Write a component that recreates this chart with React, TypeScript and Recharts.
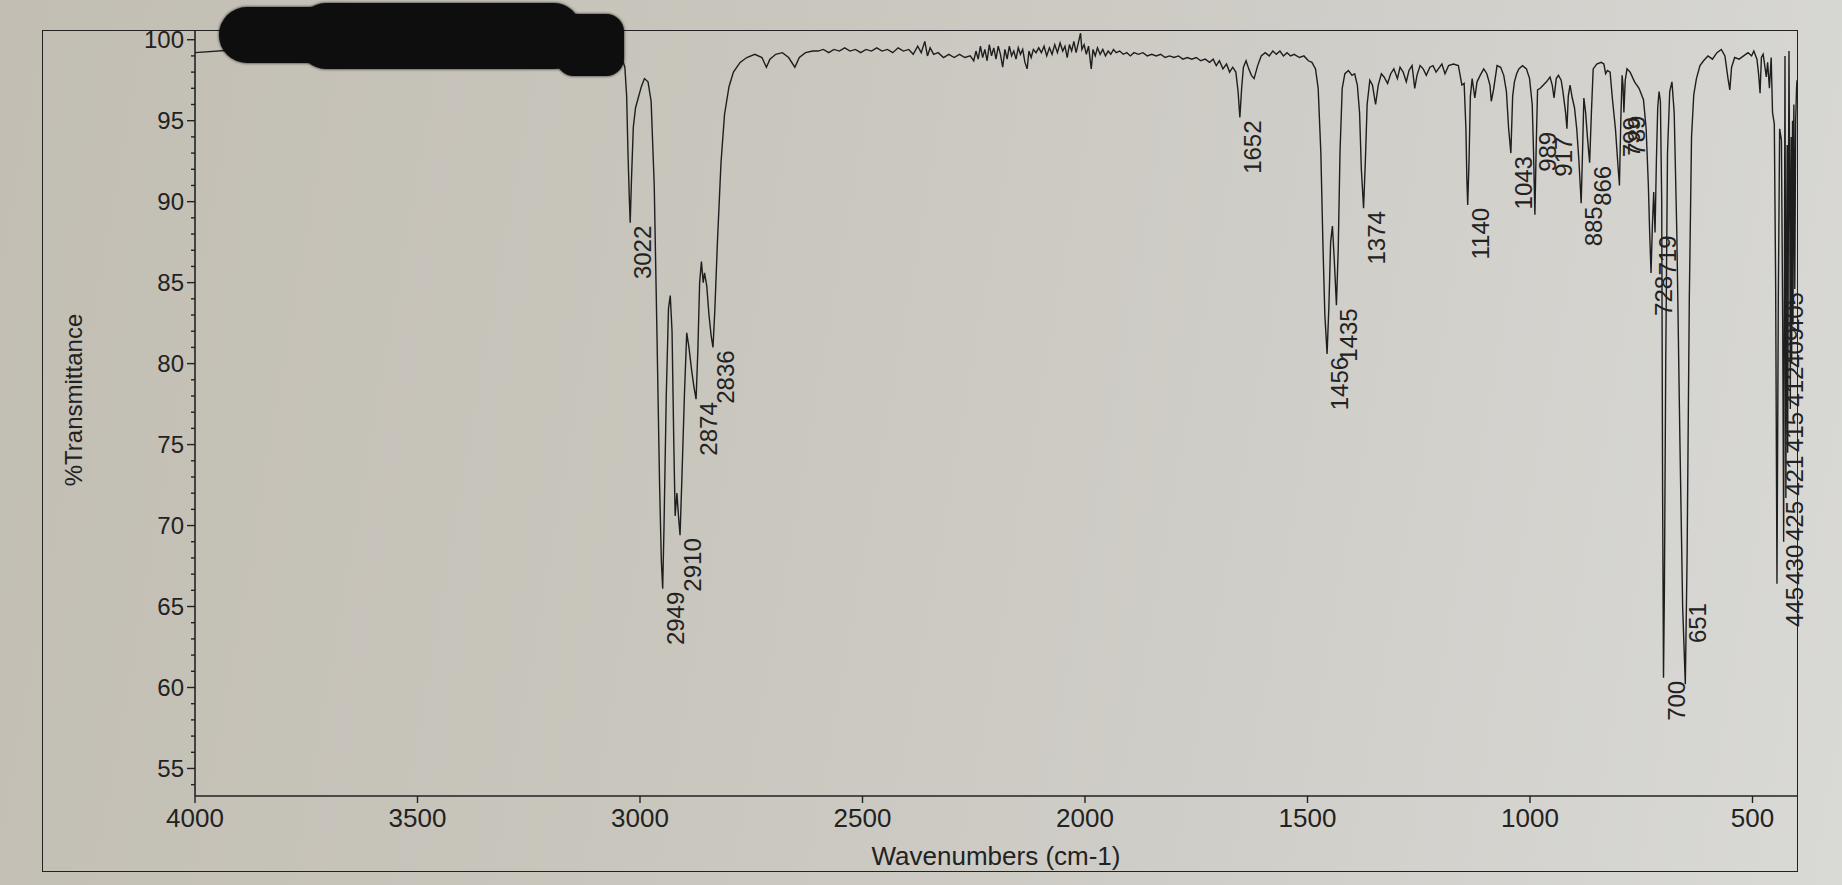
import { ComposedChart, Line, Scatter, XAxis, YAxis } from "recharts";

const FONT = '"Liberation Sans", Arial, Helvetica, sans-serif';
const INK = "#222";

// spectrum, [wavenumber cm-1, %T]
const chStretch: [number, number][] = [
  [4000, 99.2], [3900, 99.4], [3800, 99.3], [3700, 99.5], [3600, 99.4], [3500, 99.5],
  [3400, 99.4], [3300, 99.5], [3200, 99.4], [3120, 99.3], [3080, 99.1], [3060, 98.9],
  [3048, 98.6], [3040, 98.8], [3034, 98.3], [3030, 96.5], [3027, 93.0], [3024, 90.2],
  [3022, 88.7], [3019, 91.5], [3015, 94.6], [3010, 95.8], [3004, 96.4], [2997, 97.1],
  [2990, 97.6], [2982, 97.4], [2975, 96.2], [2968, 91.0], [2962, 82.0], [2956, 72.5],
  [2952, 67.8], [2949, 66.1], [2946, 70.0], [2941, 78.0], [2936, 83.4], [2932, 84.2],
  [2928, 82.0], [2924, 75.0], [2921, 70.6], [2917, 72.0], [2913, 70.4], [2910, 69.4],
  [2906, 72.8], [2900, 78.2], [2895, 81.9], [2890, 81.0], [2884, 79.6], [2879, 78.6],
  [2874, 77.8], [2870, 80.8], [2866, 85.0], [2862, 86.3], [2858, 85.0], [2855, 85.6],
  [2850, 84.8], [2845, 83.0], [2840, 81.7], [2836, 81.0], [2832, 83.2], [2826, 87.5],
  [2818, 92.4], [2810, 95.4], [2800, 97.1], [2790, 98.0], [2775, 98.6], [2760, 98.9],
  [2742, 99.1], [2726, 98.9], [2716, 98.3], [2708, 98.8], [2695, 99.1], [2680, 99.2],
  [2666, 98.9], [2652, 98.3], [2642, 98.9], [2628, 99.2], [2612, 99.3],
];

const baseline: [number, number][] = [
  [2600, 99.3], [2588, 99.4], [2576, 99.2], [2564, 99.4], [2552, 99.3], [2540, 99.5],
  [2528, 99.3], [2516, 99.4], [2504, 99.2], [2492, 99.4], [2480, 99.3], [2468, 99.5],
  [2456, 99.3], [2444, 99.4], [2432, 99.2], [2420, 99.5], [2408, 99.3], [2396, 99.4],
  [2386, 99.1], [2376, 99.6], [2368, 99.2], [2360, 99.9], [2354, 99.0], [2348, 99.5],
  [2340, 99.1], [2330, 99.2], [2318, 98.9], [2306, 99.1], [2294, 98.9], [2282, 99.1],
  [2270, 98.9], [2258, 99.0], [2250, 98.7], [2245, 99.3], [2240, 98.8], [2235, 99.6],
  [2230, 98.9], [2225, 99.4], [2220, 98.7], [2215, 99.7], [2210, 99.0], [2205, 99.5],
  [2200, 98.8], [2195, 99.6], [2190, 99.1], [2185, 98.3], [2180, 99.4], [2175, 98.8],
  [2170, 99.6], [2165, 99.0], [2160, 99.3], [2155, 98.8], [2150, 99.5], [2145, 99.1],
  [2140, 99.4], [2135, 98.6], [2130, 98.2], [2126, 99.3], [2121, 98.9], [2116, 99.4],
  [2110, 99.2], [2104, 99.5], [2098, 99.2], [2092, 99.6], [2086, 99.0], [2080, 99.5],
  [2074, 99.1], [2068, 99.7], [2062, 99.2], [2056, 99.8], [2050, 99.3], [2045, 99.6],
  [2040, 98.9], [2035, 99.7], [2030, 99.3], [2025, 99.9], [2020, 99.2], [2015, 99.8],
  [2010, 100.4], [2007, 99.4], [2002, 99.7], [1997, 99.1], [1992, 99.6], [1986, 98.2],
  [1982, 99.4], [1977, 99.0], [1972, 99.5], [1966, 99.1], [1960, 99.4], [1954, 99.0],
  [1948, 99.3], [1942, 99.1], [1936, 99.4], [1930, 99.2], [1922, 99.3], [1914, 99.1],
  [1906, 99.2], [1898, 99.0], [1890, 99.2], [1880, 99.1], [1870, 99.2], [1860, 99.0],
  [1850, 99.1], [1840, 99.0], [1830, 99.1], [1820, 98.9], [1810, 99.0], [1800, 98.9],
  [1790, 99.0], [1780, 98.8], [1770, 98.9], [1760, 98.8], [1750, 98.9], [1740, 98.7],
  [1730, 98.8], [1720, 98.6],
];

const midRange: [number, number][] = [
  [1712, 98.8], [1705, 98.4], [1698, 98.7], [1690, 98.2], [1682, 98.5], [1675, 98.0],
  [1668, 98.3], [1661, 98.0], [1656, 96.8], [1652, 95.2], [1648, 97.0], [1644, 98.3],
  [1638, 98.7], [1632, 98.2], [1626, 97.8], [1620, 97.6], [1612, 98.4], [1604, 99.0],
  [1595, 99.2], [1586, 99.0], [1578, 99.3], [1570, 99.1], [1562, 99.3], [1554, 99.0],
  [1546, 99.2], [1538, 99.0], [1530, 99.1], [1518, 98.9], [1508, 99.0], [1498, 98.7],
  [1490, 98.6], [1482, 98.2], [1476, 97.0], [1470, 93.0], [1465, 87.0], [1461, 83.0],
  [1456, 80.6], [1452, 83.5], [1448, 87.5], [1444, 88.5], [1440, 86.5], [1435, 83.6],
  [1431, 87.0], [1427, 93.0], [1422, 97.0], [1416, 97.9], [1408, 98.1], [1400, 97.8],
  [1394, 97.9], [1388, 97.2], [1383, 95.5], [1379, 92.0], [1374, 89.6], [1370, 92.5],
  [1366, 96.0], [1360, 97.5], [1354, 97.2], [1347, 96.0], [1341, 97.2], [1334, 97.9],
  [1328, 97.7], [1320, 97.3], [1313, 97.9], [1306, 98.2], [1298, 97.6], [1292, 98.3],
  [1285, 98.0], [1278, 97.4], [1272, 98.1], [1265, 98.4], [1259, 97.0], [1254, 97.8],
  [1247, 98.4], [1240, 98.2], [1233, 97.8], [1225, 98.3], [1218, 98.4], [1211, 98.0],
  [1206, 98.2], [1198, 98.5], [1191, 97.9], [1183, 98.4], [1172, 98.5], [1161, 98.4],
];

const fingerprint: [number, number][] = [
  [1153, 97.2], [1148, 97.3], [1144, 94.5], [1142, 91.5], [1140, 89.8], [1137, 92.5],
  [1134, 96.5], [1130, 97.6], [1124, 96.4], [1119, 97.4], [1112, 97.8], [1104, 98.2],
  [1097, 97.9], [1090, 97.2], [1087, 96.2], [1082, 96.9], [1074, 98.4], [1066, 98.3],
  [1059, 97.8], [1053, 96.8], [1048, 94.5], [1043, 93.0], [1039, 96.5], [1035, 97.4],
  [1030, 97.9], [1025, 98.2], [1017, 98.4], [1008, 98.2], [1001, 97.6], [995, 96.0],
  [992, 93.0], [989, 89.2], [986, 93.5], [983, 96.9], [977, 97.0], [970, 97.2],
  [963, 97.4], [955, 97.7], [950, 97.2], [946, 96.4], [941, 97.6], [936, 97.8],
  [930, 97.5], [926, 96.8], [920, 95.5], [917, 94.5], [914, 96.5], [910, 97.2],
  [905, 96.4], [900, 95.8], [895, 94.5], [890, 92.5], [885, 89.9], [882, 93.0],
  [879, 96.4], [875, 95.5], [871, 94.0], [866, 92.4], [862, 95.5], [858, 98.2],
  [850, 98.5], [840, 98.6], [834, 98.5], [830, 97.9], [826, 98.1], [820, 98.0],
  [815, 96.4], [808, 94.5], [803, 92.5], [799, 91.0], [796, 95.0], [793, 97.8],
  [791, 97.2], [789, 95.5], [786, 97.5], [782, 98.2], [775, 98.0], [765, 97.4],
  [755, 97.0], [745, 96.3], [739, 94.5], [734, 91.0], [731, 88.0], [728, 85.6],
  [725, 88.5], [722, 90.6], [719, 88.1], [716, 92.5], [713, 95.8], [710, 96.8],
  [707, 96.2], [704, 90.0], [702, 72.0], [700, 60.6], [698, 66.0], [695, 80.0],
  [691, 93.0], [686, 96.8], [681, 97.4], [676, 95.5], [670, 88.0], [663, 75.0],
  [657, 65.0], [651, 60.2], [647, 68.0], [642, 84.0], [637, 94.0], [632, 96.6],
  [626, 97.6], [618, 98.4],
];

const farIR: [number, number][] = [
  [610, 98.7], [600, 99.0], [590, 98.8], [580, 99.2], [570, 99.4], [562, 99.0],
  [555, 97.6], [551, 96.9], [547, 98.3], [540, 98.9], [530, 98.8], [520, 99.0],
  [510, 99.2], [502, 99.0], [497, 99.3], [490, 98.8], [486, 97.8], [483, 96.7],
  [480, 98.9], [476, 99.1], [472, 98.3], [469, 97.7], [466, 98.6], [462, 97.0],
  [458, 98.9], [455, 95.5], [451, 94.8], [448, 85.0], [445, 66.4], [442, 84.0],
  [439, 94.5], [435, 93.8], [432, 82.0], [430, 69.0], [428, 88.0], [427, 99.0],
  [426, 86.0], [425, 71.7], [423, 89.0], [422, 93.5], [421, 74.5], [419, 92.0],
  [418, 99.3], [416, 88.0], [415, 77.2], [414, 90.0], [413, 94.0], [412, 80.0],
  [411, 90.0], [410, 95.0], [409, 82.4], [408, 93.0], [407, 96.0], [405, 84.6],
  [403, 95.0], [401, 97.0], [400, 97.5],
];

// picked peaks printed on the chart
const peaks = [
  3022, 2949, 2910, 2874, 2836, 1652, 1456, 1435, 1374, 1140, 1043, 989, 917,
  885, 866, 799, 789, 728, 719, 700, 651, 445, 430, 425, 421, 415, 412, 409, 405,
];

// where the printout moved a label off its peak tip (wn / %T of label top)
const labelMoves: Record<number, { wn?: number; t?: number }> = {
  989: { t: 94.5 },
  917: { wn: 953, t: 94.2 },
  799: { t: 95.4 },
  651: { t: 65.4 },
  445: { wn: 434 }, 430: { wn: 434 }, 425: { wn: 434 }, 421: { wn: 434 },
  415: { wn: 434 }, 412: { wn: 434 }, 409: { wn: 434 }, 405: { wn: 434 },
};

const xTicks = [4000, 3500, 3000, 2500, 2000, 1500, 1000, 500];
const yTicks = [55, 60, 65, 70, 75, 80, 85, 90, 95, 100];
const yMinor = Array.from({ length: 47 }, (_, i) => 54 + i);

const spectrum = [...chStretch, ...baseline, ...midRange, ...fingerprint, ...farIR].map(
  ([wn, t]) => ({ wn, t })
);

const labelData = peaks.map((p) => {
  const tip = spectrum.find((d) => d.wn === p);
  const mv = labelMoves[p] || {};
  return { wn: mv.wn ?? p, t: mv.t ?? (tip ? tip.t : 90), text: String(p) };
});

function PeakLabel(props: any) {
  const { cx, cy, payload } = props;
  if (cx == null || cy == null) return null;
  return (
    <text
      transform={`translate(${cx + 21},${cy + 3}) rotate(-90)`}
      textAnchor="end"
      fontSize={24}
      fontFamily={FONT}
      fill={INK}
    >
      {payload.text}
    </text>
  );
}

function YTick(props: any) {
  const { x, y, payload } = props;
  const v = payload.value;
  const major = yTicks.includes(v);
  return (
    <g>
      <line x1={x} x2={x - (major ? 8 : 4)} y1={y} y2={y} stroke={INK} strokeWidth={1.4} />
      {major && (
        <text x={x - 11} y={y + 8.5} textAnchor="end" fontSize={24} fontFamily={FONT} fill={INK}>
          {v}
        </text>
      )}
    </g>
  );
}

function XTick(props: any) {
  const { x, y, payload } = props;
  return (
    <g>
      <line x1={x} x2={x} y1={y} y2={y + 7} stroke={INK} strokeWidth={1.4} />
      <text x={x} y={y + 31} textAnchor="middle" fontSize={26} fontFamily={FONT} fill={INK}>
        {payload.value}
      </text>
    </g>
  );
}

const xTitle = () => (
  <text x={996} y={865} textAnchor="middle" fontSize={26} fontFamily={FONT} fill={INK}>
    Wavenumbers (cm-1)
  </text>
);

const yTitle = () => (
  <text
    transform="translate(73,400) rotate(-90)"
    textAnchor="middle"
    dominantBaseline="central"
    fontSize={24}
    fontFamily={FONT}
    fill={INK}
  >
    %Transmittance
  </text>
);

const blot = { position: "absolute" as const, background: "#0e0e0e", boxShadow: "0 0 3px #111" };

export default function App() {
  return (
    <div
      style={{
        position: "fixed",
        left: 0,
        top: 0,
        width: 1842,
        height: 885,
        overflow: "hidden",
        background: "linear-gradient(100deg, #c2beb3 0%, #c8c5bc 35%, #cfcdc7 65%, #d9d9d6 100%)",
      }}
    >
      <div
        style={{
          position: "absolute",
          left: 42,
          top: 30,
          width: 1756,
          height: 842,
          border: `1.5px solid ${INK}`,
          boxSizing: "border-box",
        }}
      />
      <div style={{ position: "absolute", left: 0, top: 0 }}>
        <ComposedChart width={1842} height={885} margin={{ top: 30, right: 45, bottom: 0, left: 0 }}>
          <XAxis
            type="number"
            dataKey="wn"
            domain={[400, 4000]}
            reversed
            ticks={xTicks}
            interval={0}
            tick={XTick}
            tickLine={false}
            tickSize={0}
            tickMargin={0}
            height={89}
            axisLine={{ stroke: INK, strokeWidth: 1.6 }}
            label={xTitle}
          />
          <YAxis
            type="number"
            dataKey="t"
            domain={[53.3, 100.6]}
            ticks={yMinor}
            interval={0}
            tick={YTick}
            tickLine={false}
            tickSize={0}
            tickMargin={0}
            width={195}
            axisLine={{ stroke: INK, strokeWidth: 1.6 }}
            label={yTitle}
          />
          <Line
            data={spectrum}
            dataKey="t"
            type="linear"
            stroke="#1e1e1e"
            strokeWidth={1.4}
            dot={false}
            activeDot={false}
            isAnimationActive={false}
          />
          <Scatter
            data={labelData}
            dataKey="t"
            shape={(p: any) => <PeakLabel {...p} />}
            isAnimationActive={false}
          />
        </ComposedChart>
      </div>
      <div style={{ ...blot, left: 219, top: 7, width: 300, height: 56, borderRadius: 28 }} />
      <div style={{ ...blot, left: 300, top: 3, width: 280, height: 66, borderRadius: 26 }} />
      <div style={{ ...blot, left: 556, top: 14, width: 68, height: 62, borderRadius: 18 }} />
    </div>
  );
}
